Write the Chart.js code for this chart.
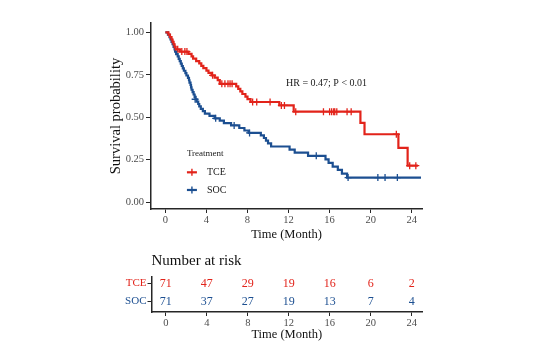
<!DOCTYPE html>
<html><head><meta charset="utf-8">
<script src="https://cdn.jsdelivr.net/npm/chart.js@4"></script>
<style>
html,body{margin:0;padding:0;background:#fff;width:547px;height:356px;overflow:hidden}
#main{position:absolute;left:0;top:0}
#risk{position:absolute;left:0;top:250px}
</style></head><body>
<canvas id="main" width="547" height="250"></canvas>
<canvas id="risk" width="547" height="106"></canvas>
<script>
// ---- data ----
const groups = ['TCE', 'SOC'];
const tceTime = [0, 0.3, 0.45, 0.6, 0.7, 0.8, 0.9, 1.0, 1.4, 2.25, 2.55, 2.7, 3.0, 3.3, 3.5, 3.7, 4.0, 4.2, 4.5, 4.8, 5.1, 5.3, 6.9, 7.1, 7.3, 7.5, 7.8, 8.0, 8.3, 11.1, 12.5, 19.0, 19.4, 22.7, 23.6, 24.6];
const tceSurv = [1, 0.986, 0.972, 0.958, 0.944, 0.93, 0.915, 0.90, 0.887, 0.873, 0.859, 0.845, 0.831, 0.817, 0.803, 0.789, 0.775, 0.761, 0.747, 0.733, 0.719, 0.697, 0.682, 0.667, 0.652, 0.637, 0.622, 0.607, 0.59, 0.57, 0.533, 0.467, 0.40, 0.32, 0.215, 0.215];
const tceCensTime = [1.2, 1.6, 1.9, 2.1, 4.6, 5.5, 5.8, 6.1, 6.3, 6.5, 8.5, 8.9, 10.2, 11.3, 11.6, 12.7, 15.4, 16.0, 16.2, 16.4, 16.5, 16.7, 17.7, 18.1, 22.5, 23.8, 24.4];
const tceCensSurv = [0.90, 0.887, 0.887, 0.887, 0.747, 0.697, 0.697, 0.697, 0.697, 0.697, 0.59, 0.59, 0.59, 0.57, 0.57, 0.533, 0.533, 0.533, 0.533, 0.533, 0.533, 0.533, 0.533, 0.533, 0.40, 0.215, 0.215];

const socTime = [0, 0.25, 0.4, 0.5, 0.6, 0.7, 0.8, 0.9, 0.95, 1.05, 1.2, 1.3, 1.4, 1.5, 1.6, 1.7, 1.8, 1.95, 2.05, 2.2, 2.3, 2.35, 2.45, 2.5, 2.55, 2.65, 2.75, 2.85, 2.95, 3.05, 3.2, 3.3, 3.45, 3.65, 3.85, 4.3, 4.8, 5.3, 5.7, 6.4, 7.2, 7.7, 8.1, 9.3, 9.6, 9.8, 10.0, 10.3, 12.1, 12.6, 13.9, 15.6, 15.9, 16.3, 16.8, 17.2, 17.7, 24.9];
const socSurv = [1, 0.986, 0.972, 0.958, 0.944, 0.930, 0.915, 0.900, 0.886, 0.872, 0.858, 0.844, 0.830, 0.816, 0.802, 0.788, 0.774, 0.760, 0.746, 0.732, 0.718, 0.704, 0.690, 0.676, 0.662, 0.648, 0.634, 0.620, 0.606, 0.592, 0.578, 0.564, 0.550, 0.536, 0.522, 0.508, 0.494, 0.480, 0.466, 0.452, 0.437, 0.422, 0.408, 0.393, 0.378, 0.362, 0.346, 0.328, 0.31, 0.292, 0.273, 0.252, 0.231, 0.21, 0.19, 0.168, 0.145, 0.145];
const socCensTime = [2.9, 4.9, 6.7, 8.2, 14.7, 17.8, 20.7, 21.4, 22.6];
const socCensSurv = [0.606, 0.494, 0.452, 0.408, 0.273, 0.145, 0.145, 0.145, 0.145];

const xTicks = [0, 4, 8, 12, 16, 20, 24];
const yTicks = [0, 0.25, 0.5, 0.75, 1];
const riskTime = [0, 4, 8, 12, 16, 20, 24];
const riskTCE = [71, 47, 29, 19, 16, 6, 2];
const riskSOC = [71, 37, 27, 19, 13, 7, 4];
const hrText = 'HR = 0.47; P < 0.01';

// ---- styles ----
const RED = '#E2231A', BLUE = '#1C4F91';
const SERIF = '"Liberation Serif", "Times New Roman", serif';
const AXIS = '#262626', TICK = '#4D4D4D';

const pts = (xs, ys) => xs.map((x, i) => ({x: x, y: ys[i]}));

const annot = {
  id: 'annot',
  afterDatasetsDraw(chart) {
    const {ctx, scales: {x, y}} = chart;
    ctx.save();
    ctx.fillStyle = '#1a1a1a';
    ctx.font = '10px ' + SERIF;
    ctx.textAlign = 'center'; ctx.textBaseline = 'middle';
    ctx.fillText(hrText, x.getPixelForValue(15.7), y.getPixelForValue(0.70));
    // legend
    const lx = x.getPixelForValue(2.1);
    ctx.textAlign = 'left';
    ctx.font = '9px ' + SERIF;
    ctx.fillText('Treatment', lx, y.getPixelForValue(0.284));
    const items = [[groups[0], RED, 0.176], [groups[1], BLUE, 0.072]];
    ctx.font = '10px ' + SERIF;
    items.forEach(([lab, col, yy]) => {
      const py = y.getPixelForValue(yy);
      ctx.strokeStyle = col; ctx.lineWidth = 2.2;
      ctx.beginPath(); ctx.moveTo(lx, py); ctx.lineTo(lx + 10, py); ctx.stroke();
      ctx.lineWidth = 1.4;
      ctx.beginPath(); ctx.moveTo(lx + 5, py - 3.5); ctx.lineTo(lx + 5, py + 3.5); ctx.stroke();
      ctx.fillStyle = '#1a1a1a';
      ctx.fillText(lab, lx + 20, py);
    });
    ctx.restore();
  }
};

new Chart(document.getElementById('main'), {
  type: 'line',
  data: {
    datasets: [
      {label: groups[0], data: pts(tceTime, tceSurv), stepped: true, borderColor: RED, borderWidth: 2.2, pointRadius: 0, fill: false},
      {label: groups[1], data: pts(socTime, socSurv), stepped: true, borderColor: BLUE, borderWidth: 2.2, pointRadius: 0, fill: false},
      {label: groups[0] + ' censored', data: pts(tceCensTime, tceCensSurv), showLine: false, pointStyle: 'cross', pointRadius: 3.5, pointBorderWidth: 1.3, borderColor: RED, backgroundColor: RED},
      {label: groups[1] + ' censored', data: pts(socCensTime, socCensSurv), showLine: false, pointStyle: 'cross', pointRadius: 3.5, pointBorderWidth: 1.3, borderColor: BLUE, backgroundColor: BLUE}
    ]
  },
  options: {
    responsive: false, animation: false,
    layout: {padding: {left: 0, top: 23, right: 125, bottom: 0}},
    plugins: {legend: {display: false}, tooltip: {enabled: false}},
    scales: {
      x: {
        type: 'linear', min: -1.4, max: 25,
        afterBuildTicks: s => { s.ticks = xTicks.map(v => ({value: v})); },
        afterFit: s => { s.height = 41; },
        grid: {drawOnChartArea: false, drawTicks: true, tickLength: 4, color: AXIS, tickWidth: 1},
        border: {display: true, color: AXIS, width: 1.5},
        ticks: {font: {family: SERIF, size: 10.5}, color: TICK, padding: 1, maxRotation: 0},
        title: {display: true, text: 'Time (Month)', font: {family: SERIF, size: 12.5}, color: '#111', padding: {top: 0, bottom: 8}}
      },
      y: {
        type: 'linear', min: -0.04, max: 1.055,
        afterBuildTicks: s => { s.ticks = yTicks.map(v => ({value: v})); },
        afterFit: s => { s.width = 151; },
        grid: {drawOnChartArea: false, drawTicks: true, tickLength: 5, color: AXIS, tickWidth: 1},
        border: {display: true, color: AXIS, width: 1.5},
        ticks: {font: {family: SERIF, size: 10.5}, color: TICK, padding: 2, callback: v => Number(v).toFixed(2)},
        title: {display: true, text: 'Survival probability', font: {family: SERIF, size: 14.5}, color: '#111', padding: {top: 107.3, bottom: 0}}
      }
    }
  },
  plugins: [annot]
});

const riskLabels = {
  id: 'riskLabels',
  afterDatasetsDraw(chart) {
    const {ctx} = chart;
    ctx.save();
    ctx.font = '12px ' + SERIF;
    ctx.textAlign = 'center'; ctx.textBaseline = 'middle';
    chart.data.datasets.forEach((ds, di) => {
      const meta = chart.getDatasetMeta(di);
      ctx.fillStyle = ds.borderColor;
      meta.data.forEach((el, i) => {
        ctx.fillText(String(ds.counts[i]), el.x, el.y);
      });
    });
    ctx.restore();
  }
};

new Chart(document.getElementById('risk'), {
  type: 'scatter',
  data: {
    datasets: [
      {label: groups[0], data: riskTime.map(t => ({x: t, y: 2})), counts: riskTCE, borderColor: RED, pointRadius: 0},
      {label: groups[1], data: riskTime.map(t => ({x: t, y: 1})), counts: riskSOC, borderColor: BLUE, pointRadius: 0}
    ]
  },
  options: {
    responsive: false, animation: false,
    layout: {padding: {left: 0, top: 0, right: 125, bottom: 0}},
    plugins: {
      legend: {display: false}, tooltip: {enabled: false},
      title: {display: true, text: 'Number at risk', align: 'start', fullSize: false, color: '#111', font: {family: SERIF, size: 15, weight: 'normal'}, padding: {top: 2, bottom: 6.7}}
    },
    scales: {
      x: {
        type: 'linear', min: -1.4, max: 25,
        afterBuildTicks: s => { s.ticks = xTicks.map(v => ({value: v})); },
        afterFit: s => { s.height = 44; },
        grid: {drawOnChartArea: false, drawTicks: true, tickLength: 4, color: AXIS, tickWidth: 1},
        border: {display: true, color: AXIS, width: 1.5},
        ticks: {font: {family: SERIF, size: 10.5}, color: TICK, padding: 1, maxRotation: 0},
        title: {display: true, text: 'Time (Month)', font: {family: SERIF, size: 12.5}, color: '#111', padding: {top: 0, bottom: 13.5}}
      },
      y: {
        type: 'linear', min: 0.42, max: 2.38,
        afterBuildTicks: s => { s.ticks = [1, 2].map(v => ({value: v})); },
        afterFit: s => { s.width = 151.5; },
        grid: {drawOnChartArea: false, drawTicks: true, tickLength: 4, color: AXIS, tickWidth: 1},
        border: {display: true, color: AXIS, width: 1.5},
        ticks: {font: {family: SERIF, size: 11}, padding: 1,
          color: c => (c.tick && c.tick.value === 2) ? RED : BLUE,
          callback: v => v === 2 ? groups[0] : (v === 1 ? groups[1] : '')}
      }
    }
  },
  plugins: [riskLabels]
});
</script>
</body></html>
